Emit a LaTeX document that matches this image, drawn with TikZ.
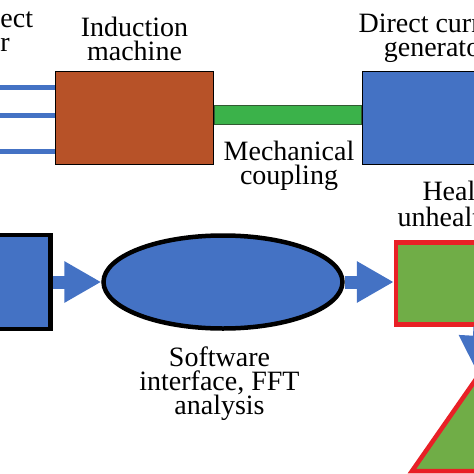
\documentclass[tikz,border=0pt]{standalone}
\usepackage{fontspec}
\setmainfont{Liberation Serif}
\usetikzlibrary{positioning,arrows.meta,shapes.geometric}
\definecolor{brique}{RGB}{183,82,40}
\definecolor{bleu}{RGB}{68,114,196}
\definecolor{vertarbre}{RGB}{59,178,74}
\definecolor{bordarbre}{RGB}{50,90,50}
\definecolor{vert}{RGB}{112,173,71}
\definecolor{rouge}{RGB}{232,32,38}

\begin{document}
\begin{tikzpicture}[x=1pt, y=-1pt, thick]

        % Styles
        \tikzstyle{machine}=[rectangle, draw=black, line width=1.2pt, minimum width=158pt, minimum height=93pt, inner sep=0pt]
        \tikzstyle{arbre}=[rectangle, draw=bordarbre, fill=vertarbre, line width=0.8pt, minimum width=147pt, minimum height=19pt, inner sep=0pt]
        \tikzstyle{bloc}=[draw=black, fill=bleu, line width=4.5pt, inner sep=0pt]
        \tikzstyle{etat}=[draw=rouge, fill=vert, line width=4.5pt, inner sep=0pt]
        \tikzstyle{texte}=[inner sep=0pt, text depth=0pt, align=center, font=\fontsize{28pt}{24pt}\selectfont]
        \tikzstyle{fleche}=[draw=bleu, line width=13pt, -{Triangle[width=39pt, length=37pt]}]
        \tikzstyle{fil}=[draw=bleu, line width=5pt]

        \useasboundingbox (0,0) rectangle (474,474);
        \clip (0,0) rectangle (474,474);

        % Nœuds
        \node[machine, fill=brique] (moteur) at (134.5,118) {};
        \node[machine, fill=bleu, right=148pt of moteur] (generatrice) {};
        \node[arbre, right=0pt of moteur, yshift=3pt] (arbre) {};
        \node[rectangle, bloc, minimum width=110pt, minimum height=94pt] (capteur) at (-4.5,282) {};
        \node[ellipse, bloc, minimum width=239pt, minimum height=93pt, right=48.5pt of capteur] (fft) {};
        \node[rectangle, etat, minimum width=168pt, minimum height=82pt, right=49pt of fft, yshift=-1.5pt] (diagnostic) {};
        \coordinate (sommet) at (477.5,377);
        \coordinate[above=4pt of sommet] (pointe);
        \coordinate (fila) at (-10,87);
        \coordinate (filb) at (-10,115);
        \coordinate (filc) at (-10,151);

        % Textes
        \node[texte, align=left, anchor=south west] (source) at (0,52) {ect\\r};
        \node[texte, above=10pt of moteur] (lmoteur) {Induction\\machine};
        \node[texte, above=14pt of generatrice, xshift=-5pt] (lgeneratrice) {Direct current\\generator};
        \node[texte, below=16pt of arbre, xshift=1pt] (larbre) {Mechanical\\coupling};
        \node[texte, below=15.5pt of fft, xshift=-3.5pt] (lfft) {Software\\interface, FFT\\analysis};
        \node[texte, above=13pt of diagnostic, xshift=2pt] (ldiagnostic) {Healthy or\\unhealthy state};

        % Triangle
        \draw[etat] (sommet) -- (543,471) -- (412,471) -- cycle;

        % Fils et flèches
        \draw[fil] (fila) -- (fila -| moteur.west);
        \draw[fil] (filb) -- (filb -| moteur.west);
        \draw[fil] (filc) -- (filc -| moteur.west);
        \draw[fleche] (capteur.east) -- (fft.west);
        \draw[fleche] (fft.east) -- (fft.east -| diagnostic.west);
        \draw[fleche] (diagnostic.south) -- (pointe);

    \end{tikzpicture}
\end{document}
